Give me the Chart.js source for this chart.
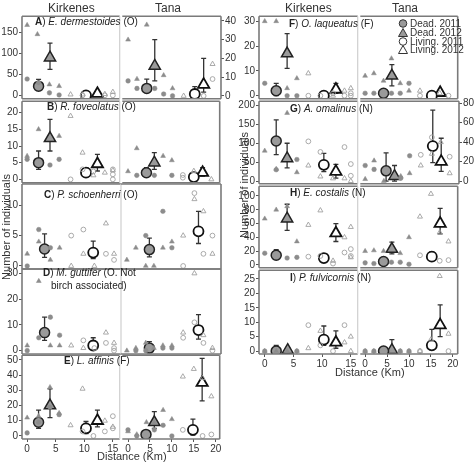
<!DOCTYPE html>
<html><head><meta charset="utf-8">
<script src="https://cdn.jsdelivr.net/npm/chart.js@4"></script>
<style>
  body{margin:0;background:#fff;font-family:"Liberation Sans",Arial,sans-serif;color:#222}
  #fig{position:relative;width:474px;height:463px;overflow:hidden}
  canvas{position:absolute}
  .t{position:absolute;font-size:10px;white-space:nowrap;line-height:12px}
  .h{position:absolute;font-size:12px;color:#333}
  .leg{position:absolute;font-size:10px;color:#333}
  .leg div{display:flex;align-items:center;gap:2px;height:8.8px;line-height:9px}
</style></head><body>
<div id="fig"></div>
<script>
// ---------------- dados (x = km, y = indivíduos) ----------------
// series: 0 = Dead 2011, 1 = Dead 2012, 2 = Living 2011, 3 = Living 2012
// mean rows: [serie, x, y, low, high]
const K_xticks = [0, 5, 10, 15];
const T_xticks = [0, 5, 10, 15, 20];

const A_K_ticks = [0, 50, 100, 150];
const A_T_ticks = [0, 10, 20, 30, 40];
const A_K_d11 = [[0,39],[2,30],[3.9,6],[5.6,1]];
const A_K_d12 = [[0,168],[1.8,146],[3.9,26],[5.6,22]];
const A_K_l11 = [[9.7,0],[13.6,0],[15,0]];
const A_K_l12 = [[7.6,2],[9.7,2],[13.6,3],[15,8]];
const A_K_mean = [[0,2,22,12,38],[1,4,90,62,125],[2,10.3,0,0,2],[3,12.3,4,0,8]];
const A_T_d11 = [[0,8],[2,4],[6,4],[8,1],[10,0]];
const A_T_d12 = [[0,30],[2,9],[4.2,38],[8,11],[10,4]];
const A_T_l11 = [[17,0],[19,9]];
const A_T_l12 = [[12.5,0],[19,17]];
const A_T_mean = [[0,4.2,4,2,9],[1,6,16,8,30],[2,15,1,0,5],[3,17,6,2,20]];

const B_ticks = [0, 5, 10, 15, 20];
const B_K_d11 = [[0,6],[4,4.3],[5.6,6]];
const B_K_d12 = [[0,7],[2,15],[5.6,13]];
const B_K_l11 = [[7.6,0],[9.7,3],[11.6,2.4],[15,1.5],[15,0],[15,3]];
const B_K_l12 = [[7.6,19],[9.7,8],[11.6,1.2],[13.6,2],[15,2.7]];
const B_K_mean = [[0,2,5,3,8.5],[1,4,12.3,8.5,18],[2,10.3,2,1,3.5],[3,12.3,4.6,2.5,7.5]];
const B_T_d11 = [[2,1.2],[6,1.2],[10,1.2]];
const B_T_d12 = [[0,2.4],[2,9.3],[8,7],[10,5.7]];
const B_T_l11 = [[12.5,0.5],[12.5,1.3]];
const B_T_l12 = [[15,2.5],[19,0]];
const B_T_mean = [[0,4.2,2,1.2,3.5],[1,6,5,3,8],[2,15,0.7,0,2],[3,17,2,1,3.5]];

const C_ticks = [0, 5, 10];
const C_K_d11 = [[0,0],[2,6],[4,3]];
const C_K_d12 = [[0,2],[2,4],[4,1],[5.6,3]];
const C_K_l11 = [[7.6,5],[9.7,6],[13.6,2],[15,1]];
const C_K_l12 = [[7.6,0],[9.7,2],[11.6,0],[13.6,7],[15,2]];
const C_K_mean = [[0,3,2.8,1.4,5.3],[2,11.4,2.2,1.2,4.1]];
const C_T_d11 = [[4.2,5],[8,9],[10,3]];
const C_T_d12 = [[0,1],[2,3],[4.2,0],[6,0],[8,3],[10,4]];
const C_T_l11 = [[12.5,0],[15,12],[17,2],[19,5]];
const C_T_l12 = [[12.5,5],[15,11],[17,9],[19,2]];
const C_T_mean = [[0,5,2.7,1.5,4.6],[2,15.9,5.7,3.7,9]];

const D_ticks = [0, 10, 20, 30];
const D_K_d11 = [[0,0],[2,5],[4,13],[5.6,6]];
const D_K_d12 = [[0,2],[2,27],[4,2],[5.6,2]];
const D_K_l11 = [[9.7,4],[11.6,1],[13.6,3],[15,1],[15,0]];
const D_K_l12 = [[7.6,2],[9.7,1],[13.6,7],[15,3]];
const D_K_mean = [[0,3,7,4,13],[2,11.4,2,0.5,5]];
const D_T_d11 = [[2,0],[4.2,0],[8,1],[10,1]];
const D_T_d12 = [[0,0],[2,1],[4.2,3],[6,1],[8,2],[10,2]];
const D_T_l11 = [[12.5,5],[15,11],[17,3],[19,0]];
const D_T_l12 = [[12.5,7],[15,30],[17,6],[19,1]];
const D_T_mean = [[0,5,1,0,3.5],[2,15.9,8,4.5,14]];

const E_ticks = [0, 10, 20, 30, 40, 50];
const E_K_d11 = [[0,2],[2,9],[4,19],[5.6,14]];
const E_K_d12 = [[0,12],[2,13],[4,32],[5.6,15]];
const E_K_l11 = [[9.7,3],[11.6,0],[13.6,3],[15,13],[15,5]];
const E_K_l12 = [[7.6,7],[9.7,31],[13.6,10],[15,6]];
const E_K_mean = [[0,2,9,5,17],[1,4,20,12,31],[2,10.3,5,1.5,9.5],[3,12.3,10,6,17]];
const E_T_d11 = [[0,4],[2,0],[6,4],[8,7],[10,0]];
const E_T_d12 = [[0,3],[2,1],[4.2,9],[6,9],[8,17],[10,11]];
const E_T_l11 = [[12.5,4],[17,0],[19,1]];
const E_T_l12 = [[12.5,39],[15,44],[17,38],[19,26]];
const E_T_mean = [[0,4.1,1,0,2],[1,6,9,5,16],[2,14.8,4,0.5,11],[3,16.9,35,23,51]];

const F_ticks = [0, 10, 20, 30];
const F_K_d11 = [[0,5],[3.9,0],[5.6,0]];
const F_K_d12 = [[0,30],[2,30],[3.9,3],[5.6,7]];
const F_K_l11 = [[7.6,0],[9.7,0],[11.9,1],[13.9,0],[15,0],[15,1]];
const F_K_l12 = [[7.6,9],[11.9,0],[13.9,2],[15,3]];
const F_K_mean = [[0,2,2,0,5],[1,3.9,17,11,25],[2,10.3,0,0,0.5],[3,12.4,2.5,1,5]];
const F_T_d11 = [[0,1],[2,1],[6,1],[8,1],[10,5]];
const F_T_d12 = [[0,8],[2,9],[4.2,6],[6,15],[8,5],[10,2]];
const F_T_l11 = [[12.5,0],[19,0]];
const F_T_l12 = [[12.5,2],[17,1]];
const F_T_mean = [[0,4.2,1,0,2],[1,6.1,8,4,12.5],[2,15.2,0,0,0.5],[3,17.1,1.2,0,2]];

const G_K_ticks = [0, 50, 100, 150, 200];
const G_T_ticks = [0, 20, 40, 60, 80];
const G_K_d11 = [[2,30],[5.6,57]];
const G_K_d12 = [[0,80],[2,32],[3.9,180],[5.6,23]];
const G_K_l11 = [[7.6,105],[9.7,77],[13.9,90],[15,45],[15,14]];
const G_K_l12 = [[7.6,41],[9.7,12],[11.9,7],[13.9,7],[15,0]];
const G_K_mean = [[0,2,106,70,162],[1,3.9,60,35,100],[2,10.3,43,25,73],[3,12.4,25,8,44]];
const G_T_d11 = [[0,16],[2,12],[8,3],[10,26]];
const G_T_d12 = [[0,2],[2,21],[4.2,0],[8,5],[10,8]];
const G_T_l11 = [[12.5,27],[15,45],[19,25]];
const G_T_l12 = [[12.5,16],[15,28],[17,40],[19,8]];
const G_T_mean = [[0,4.7,10.5,0,29],[1,6.6,5,0,16],[2,15.2,36,19,73],[3,17.1,20,10,44]];

const H_ticks = [0, 20, 40, 60, 80, 100];
const H_K_d11 = [[0,17],[3.9,10],[5.6,11]];
const H_K_d12 = [[0,67],[2,80],[3.9,85],[5.6,34]];
const H_K_l11 = [[7.6,12],[9.7,13],[11.9,2],[13.9,18],[15,23],[15,13]];
const H_K_l12 = [[7.6,58],[9.7,79],[11.9,6],[13.9,40],[15,55],[15,11]];
const H_K_mean = [[0,2,14,10,22],[1,3.9,67,50,88],[2,10.3,10,8,13],[3,12.4,46,34,60]];
const H_T_d11 = [[0,3],[2,2],[6,4],[8,4],[10,1]];
const H_T_d12 = [[0,20],[2,21],[4.2,20],[8,17],[10,40]];
const H_T_l11 = [[12.5,14],[17,6],[19,7]];
const H_T_l12 = [[12.5,70],[15,103],[17,47],[19,34]];
const H_T_mean = [[0,4.2,5,4,6],[1,6.1,23,16,33],[2,15.2,12,8,19],[3,17.1,60,45,82]];

const I_ticks = [0, 5, 10, 15, 20, 25];
const I_K_d11 = [[0,0],[5.6,0]];
const I_K_d12 = [[0,0],[2,0],[3.9,0],[5.6,0]];
const I_K_l11 = [[7.6,9],[9.7,2],[11.9,0],[13.9,9]];
const I_K_l12 = [[7.6,1],[9.7,7],[13.9,3],[15,5],[15,0]];
const I_K_mean = [[0,2,0,0,2],[1,4,0.3,0,1.2],[2,10.3,4,2,8.7],[3,12.4,3,1,7]];
const I_T_d11 = [[0,0],[2,0],[8,0],[10,0]];
const I_T_d12 = [[0,0],[2,0],[8,0],[10,0]];
const I_T_l11 = [[12.5,0],[19,0]];
const I_T_l12 = [[12.5,0],[15,4],[17,26],[19,6]];
const I_T_mean = [[0,4.2,0,0,0.5],[1,6.1,0.3,0,4],[2,15.2,2,0.5,7.5],[3,17.1,9,5,16]];

// ---------------- estilos ----------------
const DARK = "#7a7a7a", LIGHT = "#cfcfcf";
const SMALL = [
  { pointStyle:"circle",   backgroundColor:"#8c8c8c", borderColor:"#8c8c8c", radius:2.3, borderWidth:0.5 },
  { pointStyle:"triangle", backgroundColor:"#8c8c8c", borderColor:"#8c8c8c", radius:2.8, borderWidth:0.5 },
  { pointStyle:"circle",   backgroundColor:"rgba(0,0,0,0)", borderColor:"#a0a0a0", radius:2.4, borderWidth:0.9 },
  { pointStyle:"triangle", backgroundColor:"rgba(0,0,0,0)", borderColor:"#a0a0a0", radius:2.9, borderWidth:0.9 },
];
const BIG = [
  { pointStyle:"circle",   backgroundColor:"#9a9a9a", borderColor:"#222", radius:5,   borderWidth:1.5 },
  { pointStyle:"triangle", backgroundColor:"#9a9a9a", borderColor:"#222", radius:6.5, borderWidth:1.5 },
  { pointStyle:"circle",   backgroundColor:"#fff",    borderColor:"#111", radius:5,   borderWidth:1.8 },
  { pointStyle:"triangle", backgroundColor:"#fff",    borderColor:"#111", radius:6.5, borderWidth:1.8 },
];

// barras de erro + moldura
const errPlugin = {
  id: "errbars",
  beforeDatasetsDraw(chart) {
    const { ctx, scales: { x, y } } = chart;
    ctx.save();
    ctx.strokeStyle = "#333"; ctx.lineWidth = 1.3;
    chart.data.datasets.forEach(ds => {
      if (!ds.isMean) return;
      ds.data.forEach(p => {
        const px = x.getPixelForValue(p.x), lo = y.getPixelForValue(p.lo), hi = y.getPixelForValue(p.hi);
        ctx.beginPath();
        ctx.moveTo(px, lo); ctx.lineTo(px, hi);
        ctx.moveTo(px - 2.5, lo); ctx.lineTo(px + 2.5, lo);
        ctx.moveTo(px - 2.5, hi); ctx.lineTo(px + 2.5, hi);
        ctx.stroke();
      });
    });
    ctx.restore();
  }
};
const framePlugin = {
  id: "frame",
  afterDraw(chart, args, o) {
    const { ctx, chartArea: a } = chart;
    const side = (col, x1, y1, x2, y2) => {
      if (!col) return;
      ctx.beginPath(); ctx.strokeStyle = col; ctx.lineWidth = col === DARK ? 1.6 : 1.2;
      ctx.moveTo(x1, y1); ctx.lineTo(x2, y2); ctx.stroke();
    };
    ctx.save();
    side(o.top, a.left, a.top, a.right, a.top);
    side(o.bottom, a.left, a.bottom, a.right, a.bottom);
    side(o.left, a.left, a.top, a.left, a.bottom);
    side(o.right, a.right, a.top, a.right, a.bottom);
    ctx.restore();
  }
};

const fig = document.getElementById("fig");
const P = 7, YW = 22, XH = 16;

function axisTicks(vals) {
  return s => { s.ticks = vals.map(v => ({ value: v })); };
}

function half(o) {
  const yl = o.yside === "left", yr = o.yside === "right";
  const cl = o.l - (yl ? YW : P), cr = o.r + (yr ? YW + 2 : P);
  const ct = o.t - P, cb = o.b + (o.xt ? XH : P);
  const cv = document.createElement("canvas");
  cv.style.left = cl + "px"; cv.style.top = ct + "px";
  cv.style.width = (cr - cl) + "px"; cv.style.height = (cb - ct) + "px";
  cv.width = cr - cl; cv.height = cb - ct;
  fig.appendChild(cv);

  const sets = [o.d11, o.d12, o.l11, o.l12].map((arr, i) => ({
    data: arr.map(([x, y]) => ({ x, y })), ...SMALL[i]
  }));
  [0, 1, 2, 3].forEach(s => {
    const rows = o.mean.filter(m => m[0] === s);
    if (!rows.length) return;
    sets.push({ isMean: true, data: rows.map(m => ({ x: m[1], y: m[2], lo: m[3], hi: m[4] })), ...BIG[s] });
  });

  const font = { family: "Liberation Sans", size: 10 };
  new Chart(cv, {
    type: "scatter",
    data: { datasets: sets },
    options: {
      responsive: false, animation: false, events: [],
      layout: { padding: { left: yl ? 0 : P, right: yr ? 0 : P, top: P, bottom: o.xt ? 0 : P } },
      plugins: {
        legend: { display: false }, tooltip: { enabled: false },
        frame: o.frame
      },
      scales: {
        x: {
          type: "linear", min: o.xs[0], max: o.xs[1], display: !!o.xt,
          afterBuildTicks: axisTicks(o.xt || []),
          afterFit: s => { if (o.xt) s.height = XH; s.paddingLeft = 0; s.paddingRight = 0; },
          grid: { drawOnChartArea: false, tickLength: 3, color: "#555" },
          border: { display: false },
          ticks: { font, color: "#333", padding: 1, maxRotation: 0, autoSkip: false }
        },
        y: {
          type: "linear", min: o.ys[0], max: o.ys[1], display: !!o.yside,
          position: yr ? "right" : "left",
          afterBuildTicks: axisTicks(o.yt || []),
          afterFit: s => { if (o.yside) s.width = yr ? YW + 2 : YW; s.paddingTop = 0; s.paddingBottom = 0; },
          grid: { drawOnChartArea: false, tickLength: 3, color: "#555" },
          border: { display: false },
          ticks: { font, color: "#333", padding: 1, autoSkip: false }
        }
      }
    },
    plugins: [errPlugin, framePlugin]
  });
}

function panel(col, t, b, ys, yt, K, T, opts = {}) {
  const [l, d, r] = col;
  const xl = opts.xaxis;
  half({ l, t, r: d, b, xs: col === LEFT ? [-0.9, 16.2] : [-1.0, 16.2], ys: ys[0], yt: yt[0],
    yside: "left", xt: xl ? K_xticks : null, ...K,
    frame: { top: DARK, bottom: DARK, left: DARK, right: LIGHT } });
  half({ l: d, t, r, b, xs: col === LEFT ? [-1.3, 20.9] : [-1.1, 21.1], ys: ys[1] || ys[0], yt: yt[1] || null,
    yside: yt[1] ? "right" : null, xt: xl ? T_xticks : null, ...T,
    frame: { top: DARK, bottom: DARK, right: DARK } });
}
const S = (d11, d12, l11, l12, mean) => ({ d11, d12, l11, l12, mean });

const LEFT = [22, 121, 221], RIGHT = [259, 359, 459];
panel(LEFT, 15, 100, [[-8, 189], [-1.5, 42.5]], [A_K_ticks, A_T_ticks],
  S(A_K_d11, A_K_d12, A_K_l11, A_K_l12, A_K_mean), S(A_T_d11, A_T_d12, A_T_l11, A_T_l12, A_T_mean));
panel(LEFT, 100, 184, [[-1, 23.4]], [B_ticks],
  S(B_K_d11, B_K_d12, B_K_l11, B_K_l12, B_K_mean), S(B_T_d11, B_T_d12, B_T_l11, B_T_l12, B_T_mean));
panel(LEFT, 184, 269, [[-0.5, 13.5]], [C_ticks],
  S(C_K_d11, C_K_d12, C_K_l11, C_K_l12, C_K_mean), S(C_T_d11, C_T_d12, C_T_l11, C_T_l12, C_T_mean));
panel(LEFT, 269, 354, [[-1.3, 31.7]], [D_ticks],
  S(D_K_d11, D_K_d12, D_K_l11, D_K_l12, D_K_mean), S(D_T_d11, D_T_d12, D_T_l11, D_T_l12, D_T_mean));
panel(LEFT, 354, 439, [[-2, 53]], [E_ticks],
  S(E_K_d11, E_K_d12, E_K_l11, E_K_l12, E_K_mean), S(E_T_d11, E_T_d12, E_T_l11, E_T_l12, E_T_mean), { xaxis: true });

panel(RIGHT, 15, 100, [[-1.2, 32]], [F_ticks],
  S(F_K_d11, F_K_d12, F_K_l11, F_K_l12, F_K_mean), S(F_T_d11, F_T_d12, F_T_l11, F_T_l12, F_T_mean));
panel(RIGHT, 100, 185, [[-7, 211], [-2.7, 82]], [G_K_ticks, G_T_ticks],
  S(G_K_d11, G_K_d12, G_K_l11, G_K_l12, G_K_mean), S(G_T_d11, G_T_d12, G_T_l11, G_T_l12, G_T_mean));
panel(RIGHT, 185, 269, [[-4, 114]], [H_ticks],
  S(H_K_d11, H_K_d12, H_K_l11, H_K_l12, H_K_mean), S(H_T_d11, H_T_d12, H_T_l11, H_T_l12, H_T_mean));
panel(RIGHT, 269, 354, [[-1, 28]], [I_ticks],
  S(I_K_d11, I_K_d12, I_K_l11, I_K_l12, I_K_mean), S(I_T_d11, I_T_d12, I_T_l11, I_T_l12, I_T_mean), { xaxis: true });

// ---------------- textos ----------------
const add = (cls, x, y, html, extra = "") => {
  const el = document.createElement("div");
  el.className = cls; el.style.left = x + "px"; el.style.top = y + "px";
  el.innerHTML = html; if (extra) el.style.cssText += extra;
  fig.appendChild(el);
};
add("h", 48, 1, "Kirkenes"); add("h", 155, 1, "Tana");
add("h", 285, 1, "Kirkenes"); add("h", 392, 1, "Tana");
add("t", 35, 16, "<b>A</b>) <i>E. dermestoides</i> (O)");
add("t", 47, 101, "<b>B</b>) <i>R. foveolatus</i> (O)");
add("t", 44, 189, "<b>C</b>) <i>P. schoenherri</i> (O)");
add("t", 43, 267, "<b>D</b>) <i>M. guttifer</i> (O. Not");
add("t", 51, 280, "birch associated)");
add("t", 64, 355, "<b>E</b>) <i>L. affinis</i> (F)");
add("t", 289, 18, "<b>F</b>) <i>O. laqueatus</i> (F)");
add("t", 290, 103, "<b>G</b>) <i>A. omalinus</i> (N)");
add("t", 290, 187, "<b>H</b>) <i>E. costalis</i> (N)");
add("t", 290, 272, "<b>I</b>) <i>P. fulvicornis</i> (N)");
add("t", 97, 450, "Distance (Km)", "font-size:11px;color:#333");
add("t", 335, 366, "Distance (Km)", "font-size:11px;color:#333");
add("t", -54, 221, "Number of individuals", "font-size:11px;color:#333;transform:rotate(-90deg);width:120px;text-align:center");
add("t", 184, 179, "Number of individuals", "font-size:11px;color:#333;transform:rotate(-90deg);width:120px;text-align:center");

// legenda
const legItems = [["Dead. 2011", 0], ["Dead. 2012", 1], ["Living. 2011", 2], ["Living. 2012", 3]];
const shape = i => {
  const fill = i < 2 ? "#9a9a9a" : "#fff";
  return i % 2 === 0
    ? `<svg width="10" height="9"><circle cx="5" cy="4.5" r="3.8" fill="${fill}" stroke="#333" stroke-width="1"/></svg>`
    : `<svg width="10" height="9"><polygon points="5,0.5 9.5,8.5 0.5,8.5" fill="${fill}" stroke="#333" stroke-width="1"/></svg>`;
};
add("leg", 398, 19, legItems.map(([t, i]) => `<div>${shape(i)}<span>${t}</span></div>`).join(""));
</script>
</body></html>
